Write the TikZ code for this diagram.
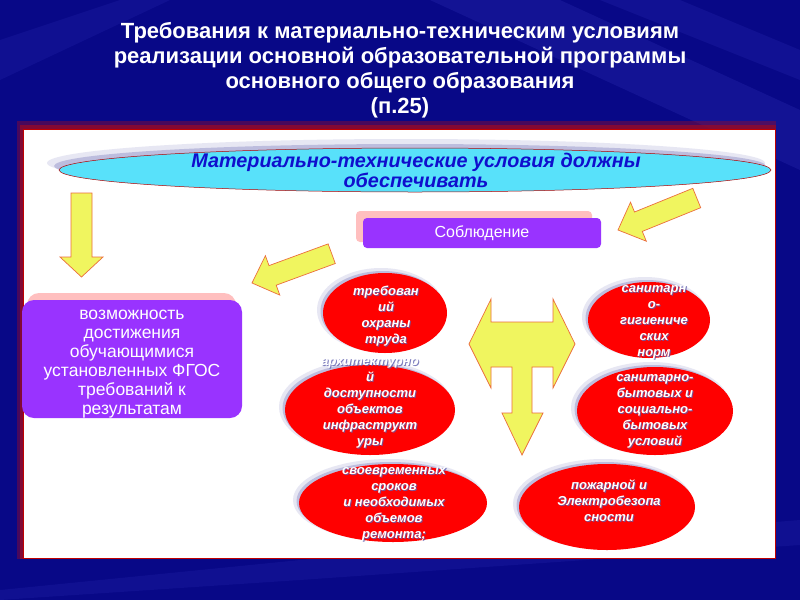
\documentclass[tikz,border=0pt]{standalone}
\usepackage{fontspec}
\setmainfont{Liberation Sans}
\usetikzlibrary{shapes.geometric}
\definecolor{bgblue}{RGB}{8,8,135}
\definecolor{bglight}{RGB}{40,40,175}
\definecolor{cyanE}{RGB}{88,225,250}
\definecolor{purp}{RGB}{153,51,255}
\definecolor{redE}{RGB}{255,0,0}
\definecolor{yel}{RGB}{240,245,95}
\definecolor{yelline}{RGB}{235,110,60}
\definecolor{txtblue}{RGB}{15,15,205}
\definecolor{pinkglow}{RGB}{255,140,140}
\definecolor{shadowc}{RGB}{95,95,175}
\definecolor{panelred}{RGB}{150,10,40}
\begin{document}
\begin{tikzpicture}[x=1pt,y=-1pt,
  redell/.style={ellipse, fill=redE, inner sep=0pt},
  redtxt/.style={text=white, align=center, font=\bfseries\itshape\fontsize{13}{16}\selectfont},
  redshd/.style={text=shadowc, text opacity=0.8, align=center, font=\bfseries\itshape\fontsize{13}{16}\selectfont},
  blockarrow/.style={fill=yel, draw=yelline, line width=0.7pt, line join=miter},
  purpbox/.style={fill=purp, inner sep=0pt},
  shadowA/.style={fill=shadowc, opacity=0.15},
  shadowB/.style={fill=shadowc, opacity=0.3},
  glow/.style={fill=pinkglow, opacity=0.55}]
% background
\useasboundingbox (0,0) rectangle (800,600);
\fill[bgblue] (0,0) rectangle (800,600);
\fill[bglight, opacity=0.35] (430,0) -- (560,0) -- (800,110) -- (800,170) -- cycle;
\fill[bglight, opacity=0.3] (600,0) -- (680,0) -- (800,50) -- (800,80) -- cycle;
\fill[bglight, opacity=0.25] (0,590) -- (300,560) -- (800,520) -- (800,545) -- (300,580) -- (0,600) -- cycle;
\fill[bglight, opacity=0.25] (0,40) -- (120,0) -- (170,0) -- (0,80) -- cycle;
% title
\node[text=white, align=center, font=\bfseries\fontsize{22}{25}\selectfont] (title) at (400,70.5)
  {Требования к материально-техническим условиям\\реализации основной образовательной программы\\основного общего образования\\(п.25)};
% panel
\fill[panelred, opacity=0.45] (17,121) rectangle (776,558.5);
\fill[panelred, opacity=0.75] (20,125) rectangle (775.5,558.5);
\fill[white] (23,129) rectangle (775,558);
\draw[red!75!black, line width=0.6pt] (23,129) rectangle (775,558);
% top ellipse
\fill[shadowA] (406,163) ellipse [x radius=359pt, y radius=24pt];
\fill[shadowB] (410,166) ellipse [x radius=356pt, y radius=22pt];
\node[ellipse, fill=cyanE, draw=red!70!black, line width=0.5pt, minimum width=712pt, minimum height=44pt, inner sep=0pt] (goal) at (415,170) {};
\node[text=txtblue, align=center, font=\bfseries\itshape\fontsize{19.8}{20}\selectfont] (goaltxt) at (416,170)
  {Материально-технические условия должны\\обеспечивать};
% left down arrow
\draw[blockarrow] (71,193) -- (92,193) -- (92,257) -- (103,257) -- (81.5,277) -- (60,257) -- (71,257) -- cycle;
% right arrow to Соблюдение
\draw[blockarrow] (692.8,188.3) -- (634.5,212.0) -- (630.5,202.2) -- (618,230) -- (646.3,241.2) -- (642.3,231.4) -- (700.7,207.7) -- cycle;
% Соблюдение
\fill[glow, rounded corners=4pt] (356,211) rectangle (592,242);
\node[purpbox, rounded corners=4pt, minimum width=238pt, minimum height=30pt] (sobl) at (482,233) {};
\node[text=white, font=\fontsize{16}{18}\selectfont] (sobltxt) at (482,233) {Соблюдение};
% left middle arrow
\draw[blockarrow] (328.1,243.9) -- (269.0,265.6) -- (265.4,255.7) -- (252,283) -- (279.8,295.1) -- (276.2,285.2) -- (335.3,263.5) -- cycle;
% left box
\fill[glow, rounded corners=12pt] (27,293) rectangle (236,330);
\node[purpbox, rounded corners=12pt, minimum width=220pt, minimum height=118pt] (vozm) at (132,359) {};
\node[text=white, align=center, font=\fontsize{17.5}{19}\selectfont] (vozmtxt) at (132,364)
  {возможность\\достижения\\обучающимися\\установленных ФГОС\\требований к\\результатам};
% T arrow
\draw[blockarrow] (469,344) -- (491,299) -- (491,322) -- (553,322) -- (553,299) -- (575,344) -- (553,388) -- (553,367) -- (532,367) -- (532,413) -- (543,413) -- (522,455) -- (502,413) -- (512,413) -- (512,367) -- (491,367) -- (491,388) -- cycle;
% red ellipse shadows
\foreach \cx/\cy/\rx/\ry in {385/313/62/40, 370/410/85/45, 649/320/61/38, 655/411/78/44, 393/503/94/39, 607/507/88/43}{
  \fill[shadowA] (\cx-4,\cy-3) ellipse [x radius=\rx pt+2pt, y radius=\ry pt+2pt];
  \fill[shadowB] (\cx-2.5,\cy-2) ellipse [x radius=\rx pt, y radius=\ry pt];
}
% red ellipses
\node[redell, minimum width=124pt, minimum height=80pt] (e1) at (385,313) {};
\node[redell, minimum width=170pt, minimum height=90pt] (e2) at (370,410) {};
\node[redell, minimum width=122pt, minimum height=76pt] (e3) at (649,320) {};
\node[redell, minimum width=156pt, minimum height=88pt] (e4) at (655,411) {};
\node[redell, minimum width=188pt, minimum height=78pt] (e5) at (393,503) {};
\node[redell, minimum width=176pt, minimum height=86pt] (e6) at (607,507) {};
% text shadows
\node[redshd] (s1) at (387,317) {требован\\ий\\охраны\\труда};
\node[redshd] (s2) at (371,404.5) {архитектурно\\й\\доступности\\объектов\\инфраструкт\\уры};
\node[redshd] (s3) at (655,323.5) {санитарн\\о-\\гигиениче\\ских\\норм};
\node[redshd] (s4) at (656,412.5) {санитарно-\\бытовых и\\социально-\\бытовых\\условий};
\node[redshd] (s5) at (395,505.5) {своевременных\\сроков\\и необходимых\\объемов\\ремонта;};
\node[redshd] (s6) at (610,502) {пожарной и\\Электробезопа\\сности};
% texts
\node[redtxt] (t1) at (386,316) {требован\\ий\\охраны\\труда};
\node[redtxt] (t2) at (370,403.5) {архитектурно\\й\\доступности\\объектов\\инфраструкт\\уры};
\node[redtxt] (t3) at (654,322.5) {санитарн\\о-\\гигиениче\\ских\\норм};
\node[redtxt] (t4) at (655,411.5) {санитарно-\\бытовых и\\социально-\\бытовых\\условий};
\node[redtxt] (t5) at (394,504.5) {своевременных\\сроков\\и необходимых\\объемов\\ремонта;};
\node[redtxt] (t6) at (609,501) {пожарной и\\Электробезопа\\сности};
\end{tikzpicture}
\end{document}
